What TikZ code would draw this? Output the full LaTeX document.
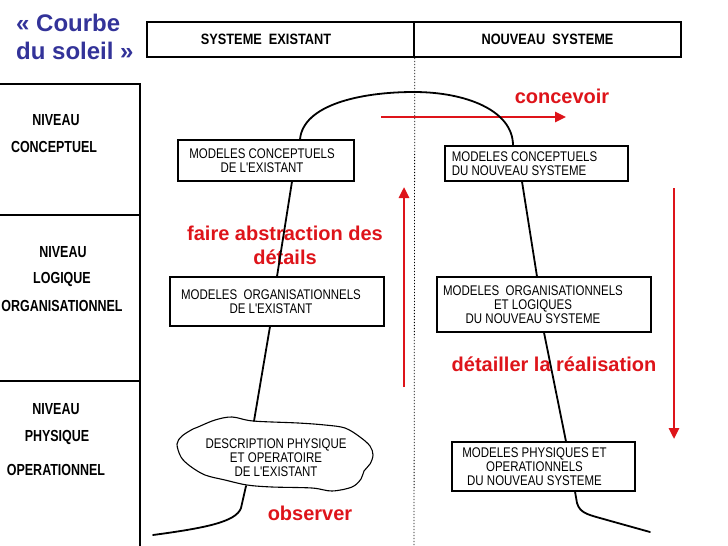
\documentclass[tikz,border=0pt]{standalone}
\usepackage{fontspec}
\setmainfont{Liberation Sans}
\newfontfamily\boxfont[FakeStretch=0.82]{Liberation Sans}
\newfontfamily\levelfont[FakeStretch=0.78]{Liberation Sans}
\newfontfamily\headfont[FakeStretch=0.85]{Liberation Sans}
\usetikzlibrary{arrows.meta, positioning}
\definecolor{soleil}{RGB}{51,51,153}
\definecolor{rouge}{RGB}{222,20,26}
\tikzset{
  modbox/.style={draw, line width=1.1pt, inner sep=0pt},
  modtext/.style={font=\boxfont\fontsize{14}{14}\selectfont, align=center, inner sep=0pt},
  headbox/.style={draw, line width=1.6pt, minimum width=267pt, minimum height=35pt, inner sep=0pt},
  headtext/.style={font=\headfont\bfseries\fontsize{15}{18}\selectfont, inner sep=0pt},
  level/.style={font=\levelfont\bfseries\fontsize{16}{18}\selectfont, inner sep=0pt},
  action/.style={text=rouge, font=\bfseries\fontsize{20}{24}\selectfont, inner sep=0pt, align=center},
  redarrow/.style={rouge, line width=2.6pt, -{Triangle[length=11pt,width=10pt]}},
  curve/.style={line width=1.8pt, line cap=round, line join=round},
}
\begin{document}
\begin{tikzpicture}[x=1pt,y=-1pt]
\path[use as bounding box, fill=white] (0,0) rectangle (728,546);

% titre
\node[text=soleil, font=\bfseries\fontsize{24}{28}\selectfont, align=left, anchor=west, inner sep=0pt] (titre) at (16,37) {« Courbe\\du soleil »};

% en-tetes
\node[headbox, label={[headtext, xshift=-14.5pt]center:{SYSTEME\ \ EXISTANT}}] (existant) at (280.5,39.5) {};
\node[headbox, label={[headtext]center:{NOUVEAU\ \ SYSTEME}}] (nouveau) at (547.5,39.5) {};
\coordinate (bas) at (414,546);
\draw[dash pattern=on 1.4pt off 1.6pt, line width=0.8pt] (existant.south east) -- (bas);

% niveaux
\draw[line width=1.4pt] (0,84) -- (140,84) -- (140,546);
\draw[line width=1.4pt] (0,215) -- (140,215);
\draw[line width=1.4pt] (0,381) -- (140,381);
\node[level] (n1) at (56,120) {NIVEAU};
\node[level] (conceptuel) at (54,147) {CONCEPTUEL};
\node[level] (n2) at (63,252) {NIVEAU};
\node[level] (logique) at (62,279) {LOGIQUE};
\node[level] (organisationnel) at (62,306) {ORGANISATIONNEL};
\node[level] (n3) at (56,409) {NIVEAU};
\node[level] (physique) at (57,437) {PHYSIQUE};
\node[level] (operationnel) at (56,470) {OPERATIONNEL};

% modeles
\node[modbox, minimum width=176pt, minimum height=41pt,
  label={[modtext, xshift=-4pt]center:{MODELES CONCEPTUELS\\DE L'EXISTANT}}] (ce) at (266,160.5) {};
\node[modbox, minimum width=183pt, minimum height=35pt,
  label={[modtext, align=left, xshift=-12pt]center:{MODELES CONCEPTUELS\\DU NOUVEAU SYSTEME}}] (cn) at (536.5,163.5) {};
\node[modbox, minimum width=214pt, minimum height=49pt,
  label={[modtext, xshift=-6pt]center:{MODELES\ \ ORGANISATIONNELS\\DE L'EXISTANT}}] (oe) at (277,301.5) {};
\node[modbox, minimum width=214pt, minimum height=55pt,
  label={[modtext, xshift=-11pt]center:{MODELES\ \ ORGANISATIONNELS\\ET LOGIQUES\\DU NOUVEAU SYSTEME}}] (on) at (544,304.5) {};
\node[modbox, minimum width=183pt, minimum height=49pt,
  label={[modtext, xshift=-9pt]center:{MODELES PHYSIQUES ET\\OPERATIONNELS\\DU NOUVEAU SYSTEME}}] (pn) at (543.5,466.5) {};

% nuage
\draw[line width=1.1pt] plot[smooth cycle, tension=0.55] coordinates {(177,444) (182,436) (193,429) (198,427) (215,420) (232,417) (253,421) (298,423) (325,425) (345,428) (360,437) (370,446) (373,455) (370,464) (364,471) (361,479) (352,487) (332,491) (312,488) (272,487) (247,485) (225,480) (205,475) (190,466) (181,457)};
\node[modtext] (pe) at (276,458) {DESCRIPTION PHYSIQUE\\ET OPERATOIRE\\DE L'EXISTANT};

% actions
\node[action] (concevoir) at (562,96) {concevoir};
\node[action] (abstraction) at (285,245) {faire abstraction des\\détails};
\node[action] (detailler) at (554,364) {détailler la réalisation};
\node[action] (observer) at (310,513) {observer};

\coordinate (c1) at (381,117);
\coordinate (c2) at (566,117);
\coordinate (a1) at (404,387);
\coordinate (a2) at (404,187);
\coordinate (d1) at (674,188);
\coordinate (d2) at (674,439);
\draw[redarrow] (c1) -- (c2);
\draw[redarrow] (a1) -- (a2);
\draw[redarrow] (d1) -- (d2);

% courbe du soleil
\coordinate (debut) at (153,535);
\coordinate (cloudbot) at (246,486);
\coordinate (cloudtop) at (254,421);
\coordinate (fin) at (650,532);
\draw[curve] (debut) .. controls (205,528) and (236,522) .. (241,508) -- (cloudbot);
\draw[curve] (cloudtop) -- ([xshift=-7pt]oe.south);
\draw[curve] (oe.north) -- ([xshift=26pt]ce.south);
\draw[curve] ([xshift=34pt]ce.north) .. controls (303,105) and (360,92) .. (414,92)
  .. controls (465,92) and (513,110) .. ([xshift=-23.5pt]cn.north);
\draw[curve] ([xshift=-14.5pt]cn.south) -- ([xshift=-7pt]on.north);
\draw[curve] (on.south) -- ([xshift=22.5pt]pn.north);
\draw[curve] ([xshift=31.5pt]pn.south) -- (577,503) .. controls (580,514) and (590,515) .. (607,520) -- (fin);
\end{tikzpicture}
\end{document}
